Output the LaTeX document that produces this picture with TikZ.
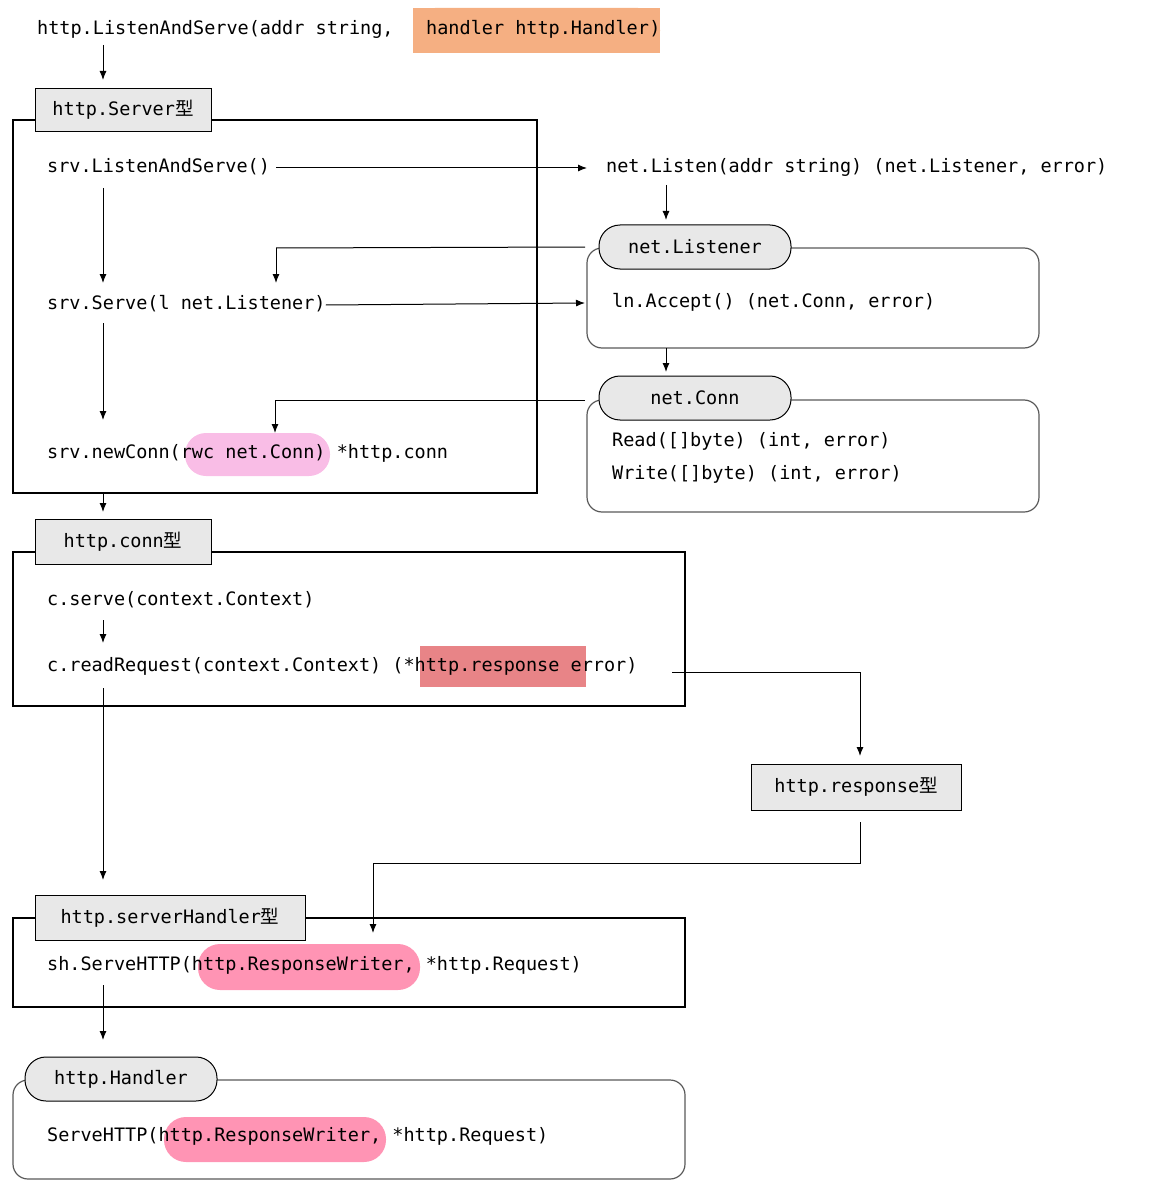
\documentclass[tikz,border=0pt]{standalone}
\usepackage{fontspec}
\setmonofont{DejaVu Sans Mono}
\newfontfamily\cjk{Noto Sans CJK JP}
\usetikzlibrary{arrows.meta,backgrounds}
\begin{document}
\begin{tikzpicture}[x=1pt,y=-1pt,
 txt/.style={font=\ttfamily\fontsize{18.5}{20}\selectfont,inner sep=0pt,text height=13pt,text depth=4pt,anchor=west},
 tag/.style={draw,fill=gray!18,font=\ttfamily\fontsize{18.5}{20}\selectfont,inner sep=0pt,line width=1pt},
 pillL/.style={draw,fill=gray!18,rounded corners=21pt,font=\ttfamily\fontsize{18.5}{20}\selectfont,inner sep=0pt,line width=1pt,minimum width=192pt,minimum height=44pt},
 frame/.style={draw,line width=1.2pt},
 rframe/.style={draw=gray!70!black,line width=1.2pt,rounded corners=15pt},
 arr/.style={-{Latex[length=9pt,width=7pt]},line width=1pt},
 ln/.style={line width=1pt}]
\useasboundingbox (0,0) rectangle (1148,1190);
% top
\node[txt] (t1) at (37,30) {http.ListenAndServe(addr string,};
\fill[fill={rgb,255:red,245;green,175;blue,130}] (413,8) rectangle (660,53);
\fill[fill={rgb,255:red,245;green,175;blue,130},rounded corners=22pt] (413,8) rectangle (660,53);
\node[txt] (t2) at (426,30) {handler http.Handler};
\node[txt] (t3) at (t2.east) {)};
\coordinate (a1) at (103,45);\coordinate (a2) at (103,80);
\draw[arr] (a1) -- (a2);
% server
\draw[frame] (13,120) rectangle (537,493);
\node[tag,minimum width=176pt,minimum height=43pt] (srvtag) at (123,110) {http.Server{\cjk 型}};
\node[txt] (s1) at (47,168) {srv.ListenAndServe()};
\node[txt] (nl) at (606,168) {net.Listen(addr string) (net.Listener, error)};
\draw[arr] (s1.east)++(6,0) -- ([xshift=-19pt]nl.west);
\coordinate (b1) at (103,188);\coordinate (b2) at (103,283);
\draw[arr] (b1) -- (b2);
\node[txt] (s2) at (47,305) {srv.Serve(l net.Listener)};
\coordinate (c1) at (585,303);
\draw[arr] (s2.east) -- (c1);
\coordinate (d1) at (103,323);\coordinate (d2) at (103,420);
\draw[arr] (d1) -- (d2);
\fill[fill={rgb,255:red,249;green,189;blue,230},rounded corners=21pt] (185,433) rectangle (330,476);
\node[txt] (s3) at (47,454) {srv.newConn(rwc net.Conn) *http.conn};
\coordinate (e1) at (103,493);\coordinate (e2) at (103,512);
\draw[arr] (e1) -- (e2);
% net.Listener
\coordinate (f1) at (666,185);\coordinate (f2) at (666,220);
\draw[arr] (f1) -- (f2);
\draw[rframe] (587,248) rectangle (1039,348);
\node[pillL] (lt) at (695,247) {net.Listener};
\node[txt] (acc) at (612,303) {ln.Accept() (net.Conn, error)};
\coordinate (g1) at (585,247);\coordinate (g2) at (276,248);\coordinate (g3) at (276,283);
\draw[ln] (g1) -- (g2); \draw[arr] (g2) -- (g3);
\coordinate (h1) at (666,348);\coordinate (h2) at (666,372);
\draw[arr] (h1) -- (h2);
% net.Conn
\draw[rframe] (587,400) rectangle (1039,512);
\node[pillL] (ct) at (695,398) {net.Conn};
\node[txt] (rd) at (612,442) {Read([]byte) (int, error)};
\node[txt] (wr) at (612,475) {Write([]byte) (int, error)};
\coordinate (i1) at (585,400);\coordinate (i2) at (275,400);\coordinate (i3) at (275,433);
\draw[ln] (i1) -- (i2); \draw[arr] (i2) -- (i3);
% http.conn
\draw[frame] (13,552) rectangle (685,706);
\node[tag,minimum width=176pt,minimum height=45pt] (ctag) at (123,542) {http.conn{\cjk 型}};
\node[txt] (cs) at (47,601) {c.serve(context.Context)};
\coordinate (j1) at (103,620);\coordinate (j2) at (103,643);
\draw[arr] (j1) -- (j2);
\fill[fill={rgb,255:red,232;green,132;blue,135}] (420,646) rectangle (586,687);
\node[txt] (cr) at (47,667) {c.readRequest(context.Context) (*http.response error)};
\coordinate (k1) at (672,672);\coordinate (k2) at (860,672);\coordinate (k3) at (860,756);
\draw[ln] (k1) -- (k2); \draw[arr] (k2) -- (k3);
\node[tag,minimum width=210pt,minimum height=46pt] (rtag) at (856,787) {http.response{\cjk 型}};
\coordinate (l1) at (860,822);\coordinate (l2) at (860,863);\coordinate (l3) at (373,863);\coordinate (l4) at (373,933);
\draw[ln] (l1) -- (l2) -- (l3); \draw[arr] (l3) -- (l4);
\coordinate (m1) at (103,688);\coordinate (m2) at (103,880);
\draw[arr] (m1) -- (m2);
% serverHandler
\draw[frame] (13,918) rectangle (685,1007);
\node[tag,minimum width=270pt,minimum height=45pt] (shtag) at (170,918) {http.serverHandler{\cjk 型}};
\fill[fill={rgb,255:red,255;green,148;blue,180},rounded corners=22pt] (198,944) rectangle (420,990);
\node[txt] (sh) at (47,966) {sh.ServeHTTP(http.ResponseWriter, *http.Request)};
\coordinate (n1) at (103,985);\coordinate (n2) at (103,1040);
\draw[arr] (n1) -- (n2);
% http.Handler
\draw[rframe] (13,1080) rectangle (685,1179);
\node[pillL] (ht) at (121,1079) {http.Handler};
\fill[fill={rgb,255:red,255;green,148;blue,180},rounded corners=22pt] (164,1117) rectangle (386,1162);
\node[txt] (hs) at (47,1137) {ServeHTTP(http.ResponseWriter, *http.Request)};
\end{tikzpicture}
\end{document}
